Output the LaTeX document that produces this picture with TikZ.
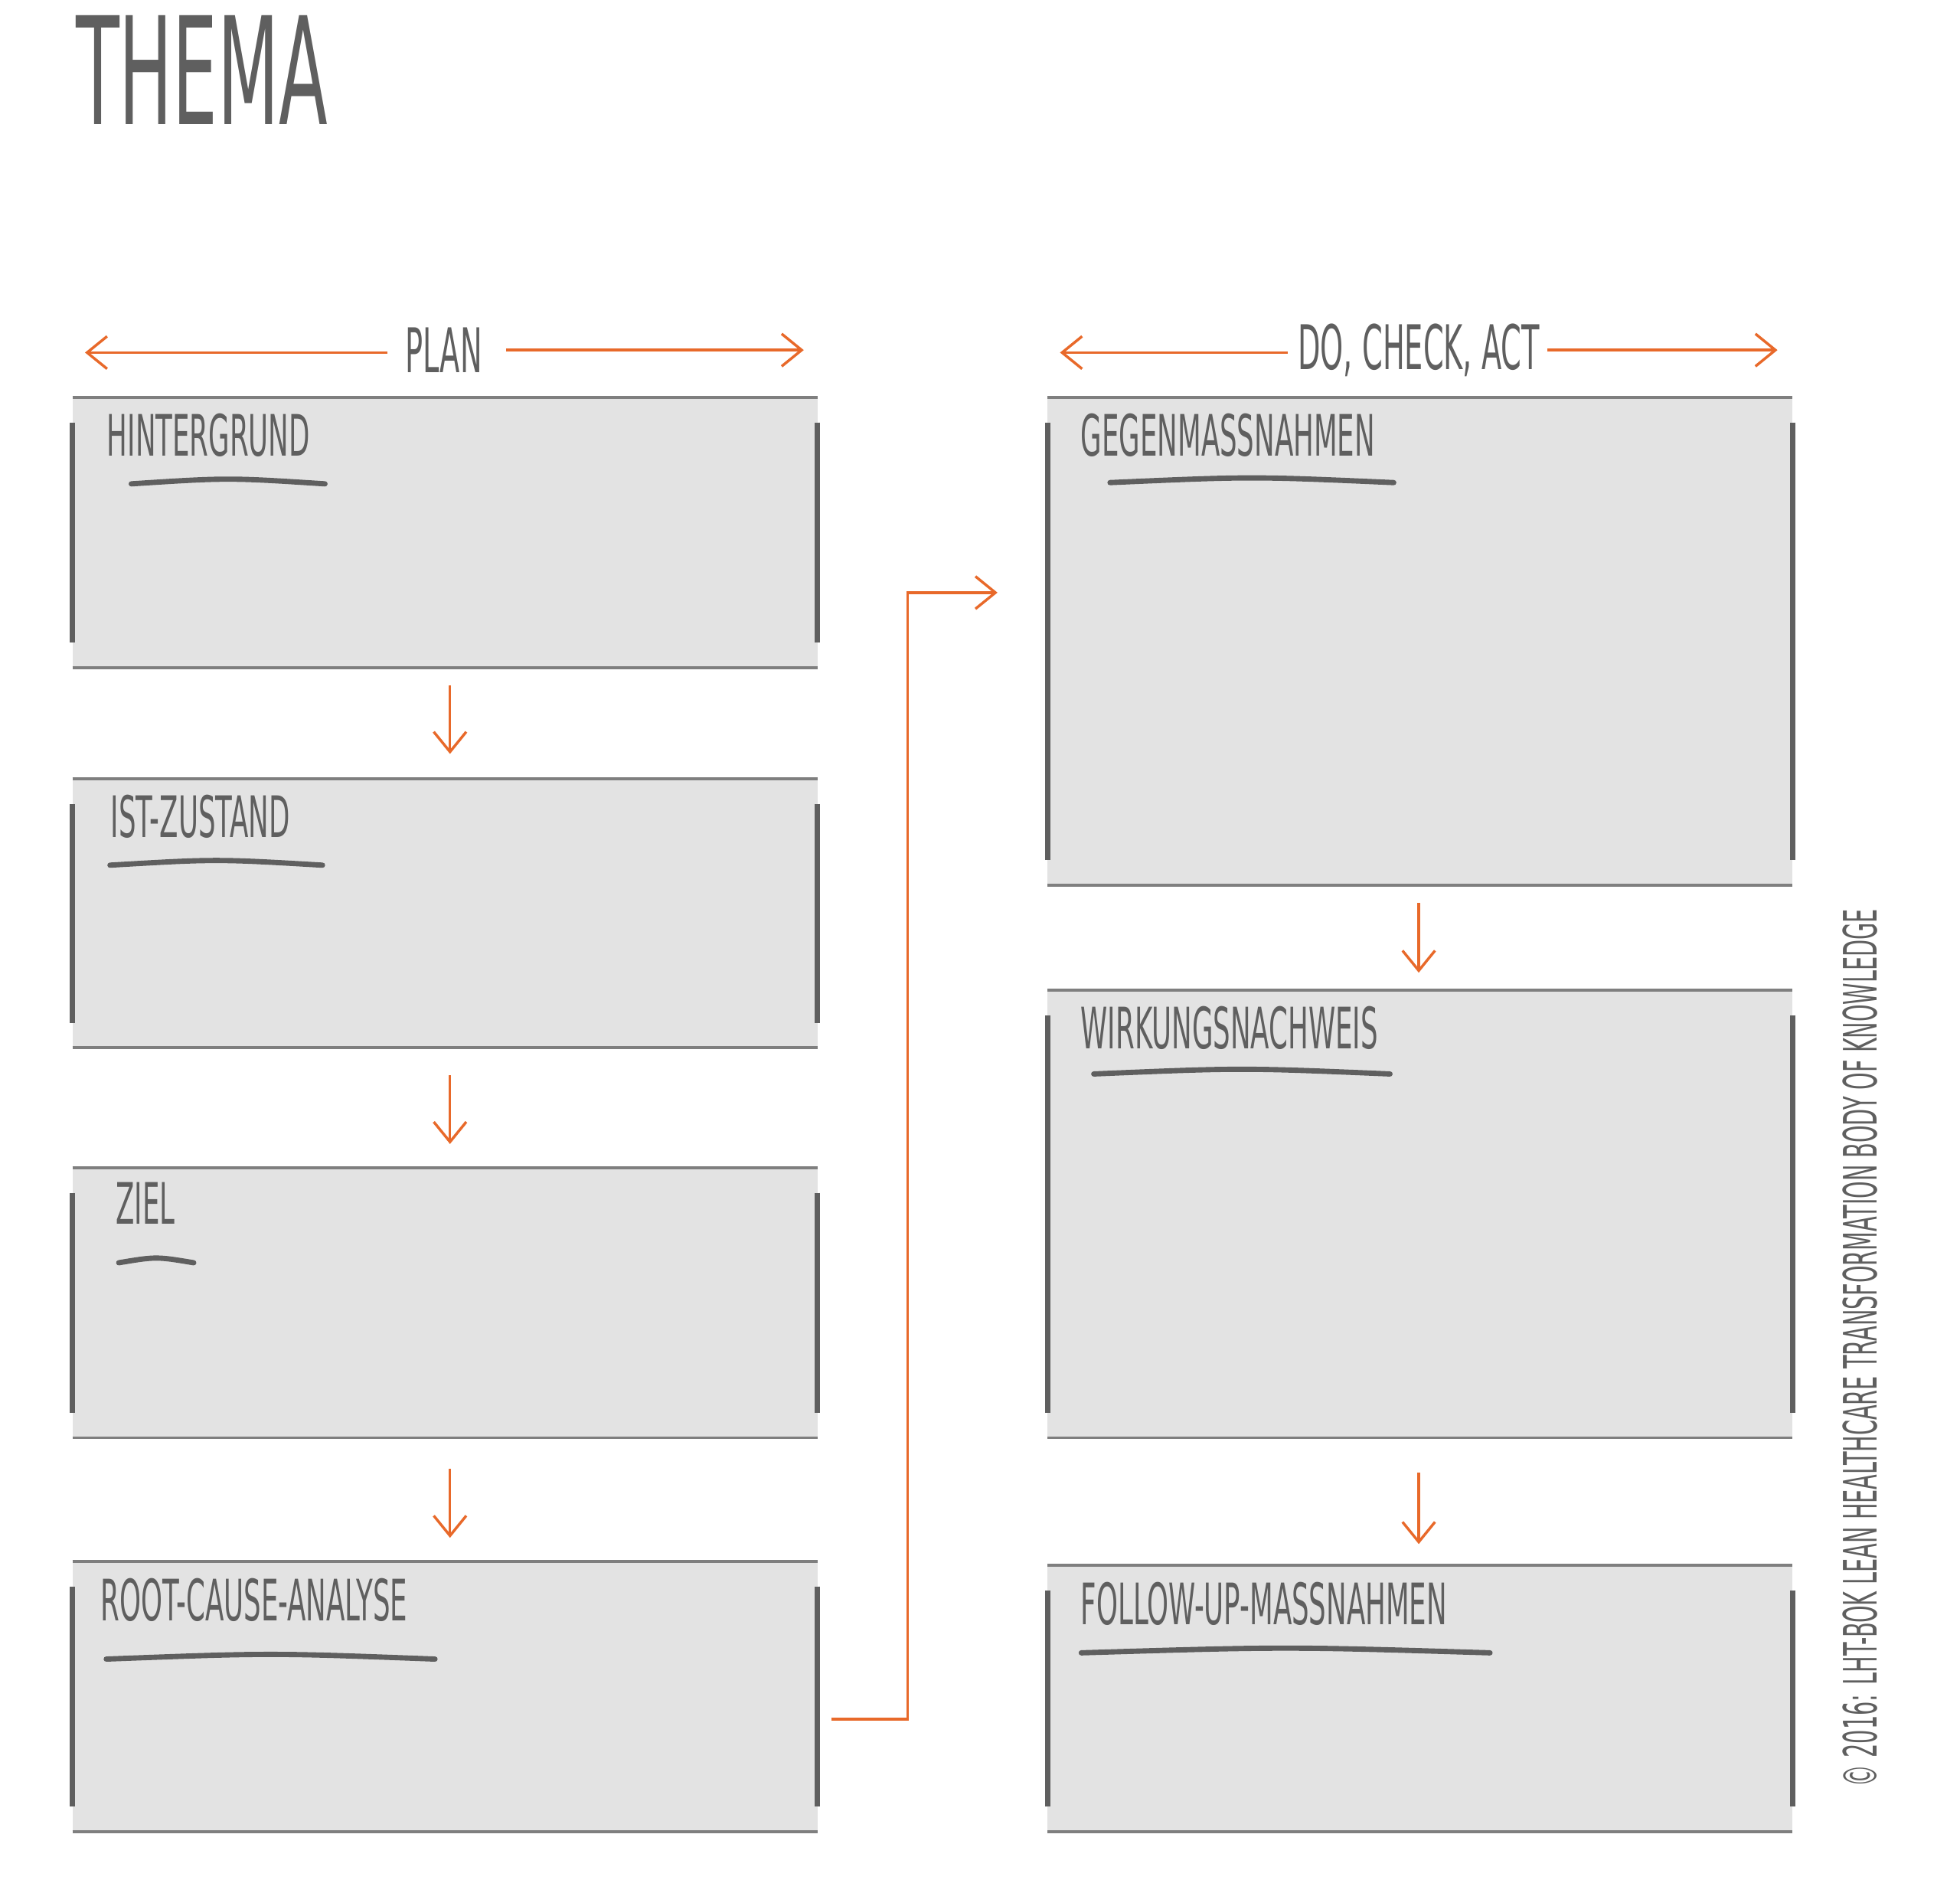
\documentclass[tikz,border=0pt]{standalone}
\usepackage{fontspec}
\setmainfont{DejaVu Sans Condensed}
\usetikzlibrary{arrows.meta}
\definecolor{boxfill}{HTML}{E3E3E3}
\definecolor{ink}{HTML}{5F5F5F}
\definecolor{orng}{HTML}{E8692A}
\newcommand{\nar}[1]{\scalebox{0.53}[1]{#1}}
\begin{document}
\begin{tikzpicture}[x=0.1mm,y=-0.1mm,
  box/.style={fill=boxfill,draw=none},
  lbl/.style={anchor=north west,text=ink,font=\fontsize{13}{15}\selectfont,inner sep=0pt},
  arr/.style={draw=orng,line width=0.6pt,-{Straight Barb[length=1.6mm,width=2.6mm]}},
  hdr/.style={text=ink,font=\fontsize{14}{16}\selectfont}]
\useasboundingbox (0,0) rectangle (1568,1514);
\node[anchor=north west,text=ink,font=\fontsize{34}{36}\selectfont,inner sep=0pt] (title) at (60,12) {\nar{THEMA}};
% boxes
\foreach \n/\xa/\ya/\xb/\yb in {b1/58/318/654/534, b2/58/623/654/838, b3/58/934/654/1150, b4/58/1249/654/1465, c1/838/318/1434/708, c2/838/792/1434/1150, c3/838/1252/1434/1465}{
  \fill[boxfill] (\xa,\ya) rectangle (\xb,\yb);
  \draw[ink!80,line width=0.6pt] (\xa,\ya) -- (\xb,\ya) (\xa,\yb) -- (\xb,\yb);
  \draw[ink,line width=1.2pt] (\xa,\ya+20) -- (\xa,\yb-20) (\xb,\ya+20) -- (\xb,\yb-20);
  \coordinate (\n-nw) at (\xa,\ya);
  \coordinate (\n-se) at (\xb,\yb);
}
\node[lbl] (l1) at (85,330) {\nar{HINTERGRUND}};
\node[lbl] (l2) at (88,635) {\nar{IST-ZUSTAND}};
\node[lbl] (l3) at (92,945) {\nar{ZIEL}};
\node[lbl] (l4) at (80,1262) {\nar{ROOT-CAUSE-ANALYSE}};
\node[lbl] (l5) at (864,330) {\nar{GEGENMASSNAHMEN}};
\node[lbl] (l6) at (864,804) {\nar{WIRKUNGSNACHWEIS}};
\node[lbl] (l7) at (864,1265) {\nar{FOLLOW-UP-MASSNAHMEN}};
\foreach \a/\b/\y in {105/260/385, 88/258/690, 95/155/1008, 85/348/1325, 888/1115/384, 875/1112/857, 865/1192/1320}
  \draw[ink,line width=1.2pt,line cap=round] (\a,\y+2) .. controls ({(\a+\b)/2},\y-3) .. (\b,\y+2);
% down arrows
\coordinate (a1s) at (360,548); \coordinate (a1e) at (360,603);
\coordinate (a2s) at (360,860); \coordinate (a2e) at (360,915);
\coordinate (a3s) at (360,1175); \coordinate (a3e) at (360,1230);
\coordinate (a4s) at (1135,722); \coordinate (a4e) at (1135,778);
\coordinate (a5s) at (1135,1178); \coordinate (a5e) at (1135,1235);
\foreach \i in {1,...,5} \draw[arr] (a\i s) -- (a\i e);
% connector
\coordinate (cs) at (665,1375); \coordinate (ce) at (798,474);
\draw[arr] (cs) -- (726,1375) -- (726,474) -- (ce);
% headers
\node[hdr] (plan) at (355,280) {\nar{PLAN}};
\node[hdr] (dca) at (1135,280) {\nar{DO, CHECK, ACT}};
\coordinate (p1) at (68,282); \coordinate (p2) at (643,280);
\coordinate (d1) at (848,282); \coordinate (d2) at (1422,280);
\draw[arr] (310,282) -- (p1);
\draw[arr] (405,280) -- (p2);
\draw[arr] (1030,282) -- (d1);
\draw[arr] (1238,280) -- (d2);
\node[rotate=90,text=ink,font=\fontsize{10.5}{13}\selectfont] (copy) at (1488,1078) {\nar{© 2016: LHT-BOK LEAN HEALTHCARE TRANSFORMATION BODY OF KNOWLEDGE}};
\end{tikzpicture}
\end{document}
